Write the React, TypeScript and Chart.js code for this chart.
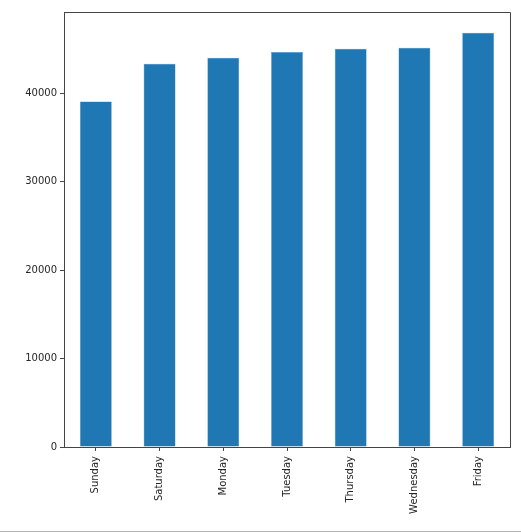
import React, { useEffect, useRef } from "react";
import { Chart, registerables } from "chart.js";

Chart.register(...registerables);

const categories = ["Sunday", "Saturday", "Monday", "Tuesday", "Thursday", "Wednesday", "Friday"];
const values = [39050, 43340, 44020, 44650, 45030, 45150, 46840];
const yTicks = [0, 10000, 20000, 30000, 40000];

const W = 521;
const H = 532;
const LEFT = 64;
const TOP = 12;
const RIGHT = 510;
const BOTTOM = 447;

const framePlugin = {
  id: "frame",
  afterDraw(chart: any) {
    const { ctx, chartArea } = chart;
    const l = Math.round(chartArea.left);
    const t = Math.round(chartArea.top) + 0.5;
    const r = Math.round(chartArea.right) + 0.5;
    const b = Math.round(chartArea.bottom);
    ctx.save();
    ctx.strokeStyle = "#444";
    ctx.lineWidth = 1;
    ctx.beginPath();
    ctx.moveTo(l, t);
    ctx.lineTo(r, t);
    ctx.lineTo(r, b);
    ctx.stroke();
    ctx.restore();
  },
};

export default function App() {
  const ref = useRef<HTMLCanvasElement>(null);
  useEffect(() => {
    document.body.style.margin = "0";
    const maxVal = Math.max(...values) * 1.05;
    const chart = new Chart(ref.current!, {
      type: "bar",
      data: {
        labels: categories,
        datasets: [
          {
            data: values,
            backgroundColor: "#1f77b4",
            borderColor: "#4f92c9",
            borderWidth: 0.5,
            categoryPercentage: 1,
            barPercentage: 0.5,
          },
        ],
      },
      plugins: [framePlugin],
      options: {
        animation: false,
        responsive: false,
        maintainAspectRatio: false,
        events: [],
        layout: { padding: { left: 0, top: TOP, right: W - RIGHT, bottom: 0 } },
        plugins: { legend: { display: false }, tooltip: { enabled: false } },
        scales: {
          x: {
            offset: true,
            grid: { display: true, drawOnChartArea: false, drawTicks: true, tickLength: 4, color: "#444", offset: false },
            border: { display: true, color: "#444" },
            ticks: {
              color: "#262626",
              font: { family: "DejaVu Sans", size: 10 },
              maxRotation: 90,
              minRotation: 90,
              padding: 5,
              autoSkip: false,
            },
            afterFit(scale: any) {
              scale.height = H - BOTTOM;
            },
          },
          y: {
            min: 0,
            max: maxVal,
            afterBuildTicks(scale: any) {
              scale.ticks = yTicks.map((v) => ({ value: v }));
            },
            grid: { display: true, drawOnChartArea: false, drawTicks: true, tickLength: 4, color: "#444" },
            border: { display: true, color: "#444" },
            ticks: {
              color: "#262626",
              font: { family: "DejaVu Sans", size: 10 },
              padding: 3,
              callback: (v: any) => String(v),
            },
            afterFit(scale: any) {
              scale.width = LEFT;
            },
          },
        },
      },
    });
    return () => chart.destroy();
  }, []);
  return (
    <div style={{ position: "relative", width: W, height: H, background: "#fff" }}>
      <canvas ref={ref} width={W} height={H} style={{ display: "block" }} />
      <div
        style={{
          position: "absolute",
          left: 0,
          top: H - 1,
          width: W,
          height: 1,
          background: "#b0b0b0",
        }}
      />
    </div>
  );
}
